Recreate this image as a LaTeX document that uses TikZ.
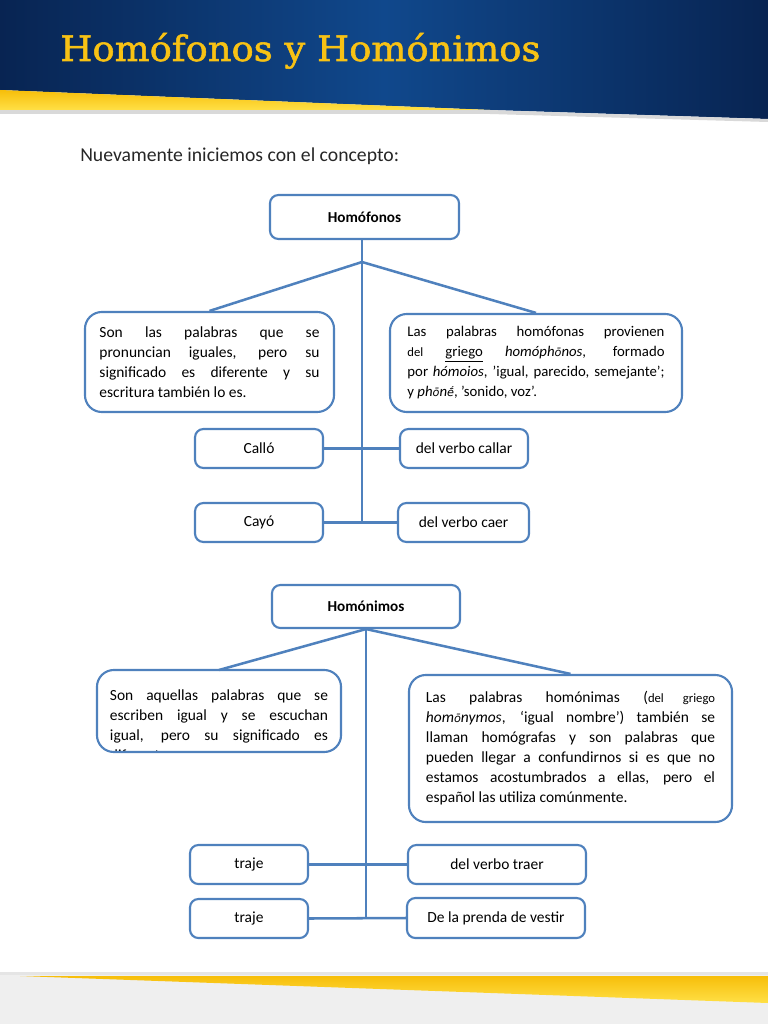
\documentclass[tikz,border=0pt]{standalone}
\usepackage{fontspec}
\usepackage{graphicx}
\setmainfont{Carlito}
\newfontfamily\titlefont[FakeBold=1.5]{DejaVu Serif}
\newfontfamily\macfont{DejaVu Sans}
\usetikzlibrary{positioning}
\definecolor{boxblue}{RGB}{79,129,189}
\definecolor{hdrblue}{RGB}{16,72,140}
\definecolor{hdrdark}{RGB}{8,36,82}
\definecolor{gold}{RGB}{247,190,10}
\definecolor{goldlight}{RGB}{255,224,70}
\definecolor{titlegold}{RGB}{248,194,20}
\definecolor{footgray}{RGB}{239,239,239}
\newcommand{\macr}[1]{{\macfont\itshape\footnotesize #1}}
\tikzset{
  box/.style ={draw=boxblue, line width=1.5pt, fill=white, rounded corners=6pt,
               font=\fontsize{11}{14.2}\selectfont},
  txt/.style ={box, rounded corners=12pt, align=justify},
  head/.style={box, font=\bfseries\fontsize{10.8}{13}\selectfont},
  link/.style={draw=boxblue, line width=1.8pt},
}

\begin{document}
\begin{tikzpicture}[x=0.025cm, y=-0.025cm]
  \useasboundingbox (0,0) rectangle (768,1024);

  % header band
  \shade[left color=hdrdark, right color=hdrdark, middle color=hdrblue]
    (0,0) -- (768,0) -- (768,119) -- (490,110) -- (0,90) -- cycle;
  \fill[black!15] (0,110) -- (490,110) -- (768,119) -- (768,122) -- (490,114) -- (0,114) -- cycle;
  \shade[top color=gold, bottom color=goldlight] (0,90) -- (490,110) -- (0,110) -- cycle;
  \node[anchor=base west, inner sep=0pt, text=titlegold] (title) at (60,61)
    {\resizebox{12cm}{0.7cm}{\titlefont Homófonos y Homónimos}};

  % footer band
  \fill[footgray] (0,974) rectangle (768,1024);
  \fill[black!10] (0,972) rectangle (768,975);
  \shade[top color=gold, bottom color=goldlight] (20,976) -- (768,976) -- (768,1003) -- cycle;

  \node[anchor=west, inner sep=0pt, text=black!85, font=\fontsize{14}{16}\selectfont] (intro)
    at (80,156) {Nuevamente iniciemos con el concepto:};

  % homofonos
  \node[head, minimum width=4.725cm, minimum height=1.1cm] (hf) at (364.5,217) {Homófonos};
  \node[txt, text width=5.5cm, minimum width=6.225cm, minimum height=2.5cm] (def1) at (209.5,362)
    {Son las palabras que se\linebreak pronuncian iguales, pero su\linebreak
     significado es diferente y su\linebreak escritura también lo es.};
  \node[txt, font=\fontsize{10.5}{14.2}\selectfont, text width=6.425cm, minimum width=7.3cm,
        minimum height=2.45cm] (orig1) at (536,363)
    {Las palabras homófonas provienen\linebreak {\small del} \underline{griego}
     \textit{homóph}\macr{ō}\textit{nos}, formado\linebreak
     por \textit{hómoios}, 'igual, parecido, semejante';\linebreak
     y \textit{ph}\macr{ō}\textit{n}\macr{ḗ}, 'sonido, voz'.};
  \node[box, minimum width=3.2cm, minimum height=0.975cm] (callo) at (259,448.5) {Calló};
  \node[box, minimum width=3.2cm, minimum height=0.975cm] (callar) at (464,448.5) {del verbo callar};
  \node[box, minimum width=3.2cm, minimum height=0.975cm] (cayo) at (259,522.5) {Cayó};
  \node[box, minimum width=3.275cm, minimum height=0.975cm] (caer) at (463.5,522.5) {del verbo caer};

  \coordinate (hfj) at (362,262);
  \draw[link] (hf.south -| hfj) -- (hfj |- cayo.east);
  \draw[link] (hfj) -- (def1.north);
  \draw[link] (hfj) -- (orig1.north);
  \draw[link] (callo.east) -- (callar.west);
  \draw[link] (cayo.east) -- (caer.west);

  % homonimos
  \node[head, minimum width=4.7cm, minimum height=1.075cm] (hn) at (366,606.5) {Homónimos};
  \node[txt, draw=none, outer sep=0pt, minimum width=6.1cm, minimum height=2.05cm] (def2) at (219,711) {};
  \begin{scope}
    \clip (def2.south west) rectangle (def2.north east);
    \node[txt, draw=none, fill=none, text width=5.45cm, inner sep=0pt] (def2txt) at (219,725)
      {Son aquellas palabras que se\linebreak escriben igual y se escuchan\linebreak
       igual, pero su significado es\linebreak diferente.};
  \end{scope}
  \draw[txt, fill=none] (def2.south west) rectangle (def2.north east);
  \node[txt, text width=7.225cm, minimum width=8.075cm, minimum height=3.675cm] (orig2) at (570.5,748.5)
    {Las palabras homónimas ({\small del griego}\linebreak
     \textit{hom}\macr{ō}\textit{nymos}, ‘igual nombre’) también se\linebreak
     llaman homógrafas y son palabras que\linebreak
     pueden llegar a confundirnos si es que no\linebreak
     estamos acostumbrados a ellas, pero el\linebreak
     español las utiliza comúnmente.};
  \node[box, minimum width=2.95cm, minimum height=0.975cm] (traje1) at (249,864.5) {traje};
  \node[box, minimum width=4.45cm, minimum height=0.975cm] (traer) at (497,864.5) {del verbo traer};
  \node[box, minimum width=2.95cm, minimum height=0.975cm] (traje2) at (249,918.5) {traje};
  \node[box, minimum width=4.45cm, minimum height=1cm] (prenda) at (496,918) {De la prenda de vestir};

  \draw[link] (hn.south) -- (hn.south |- traje2.east);
  \draw[link] (hn.south) -- (def2.north);
  \draw[link] (hn.south) -- (orig2.north);
  \draw[link] (traje1.east) -- (traer.west);
  \draw[link] (traje2.east) -- (prenda.west);
\end{tikzpicture}
\end{document}
